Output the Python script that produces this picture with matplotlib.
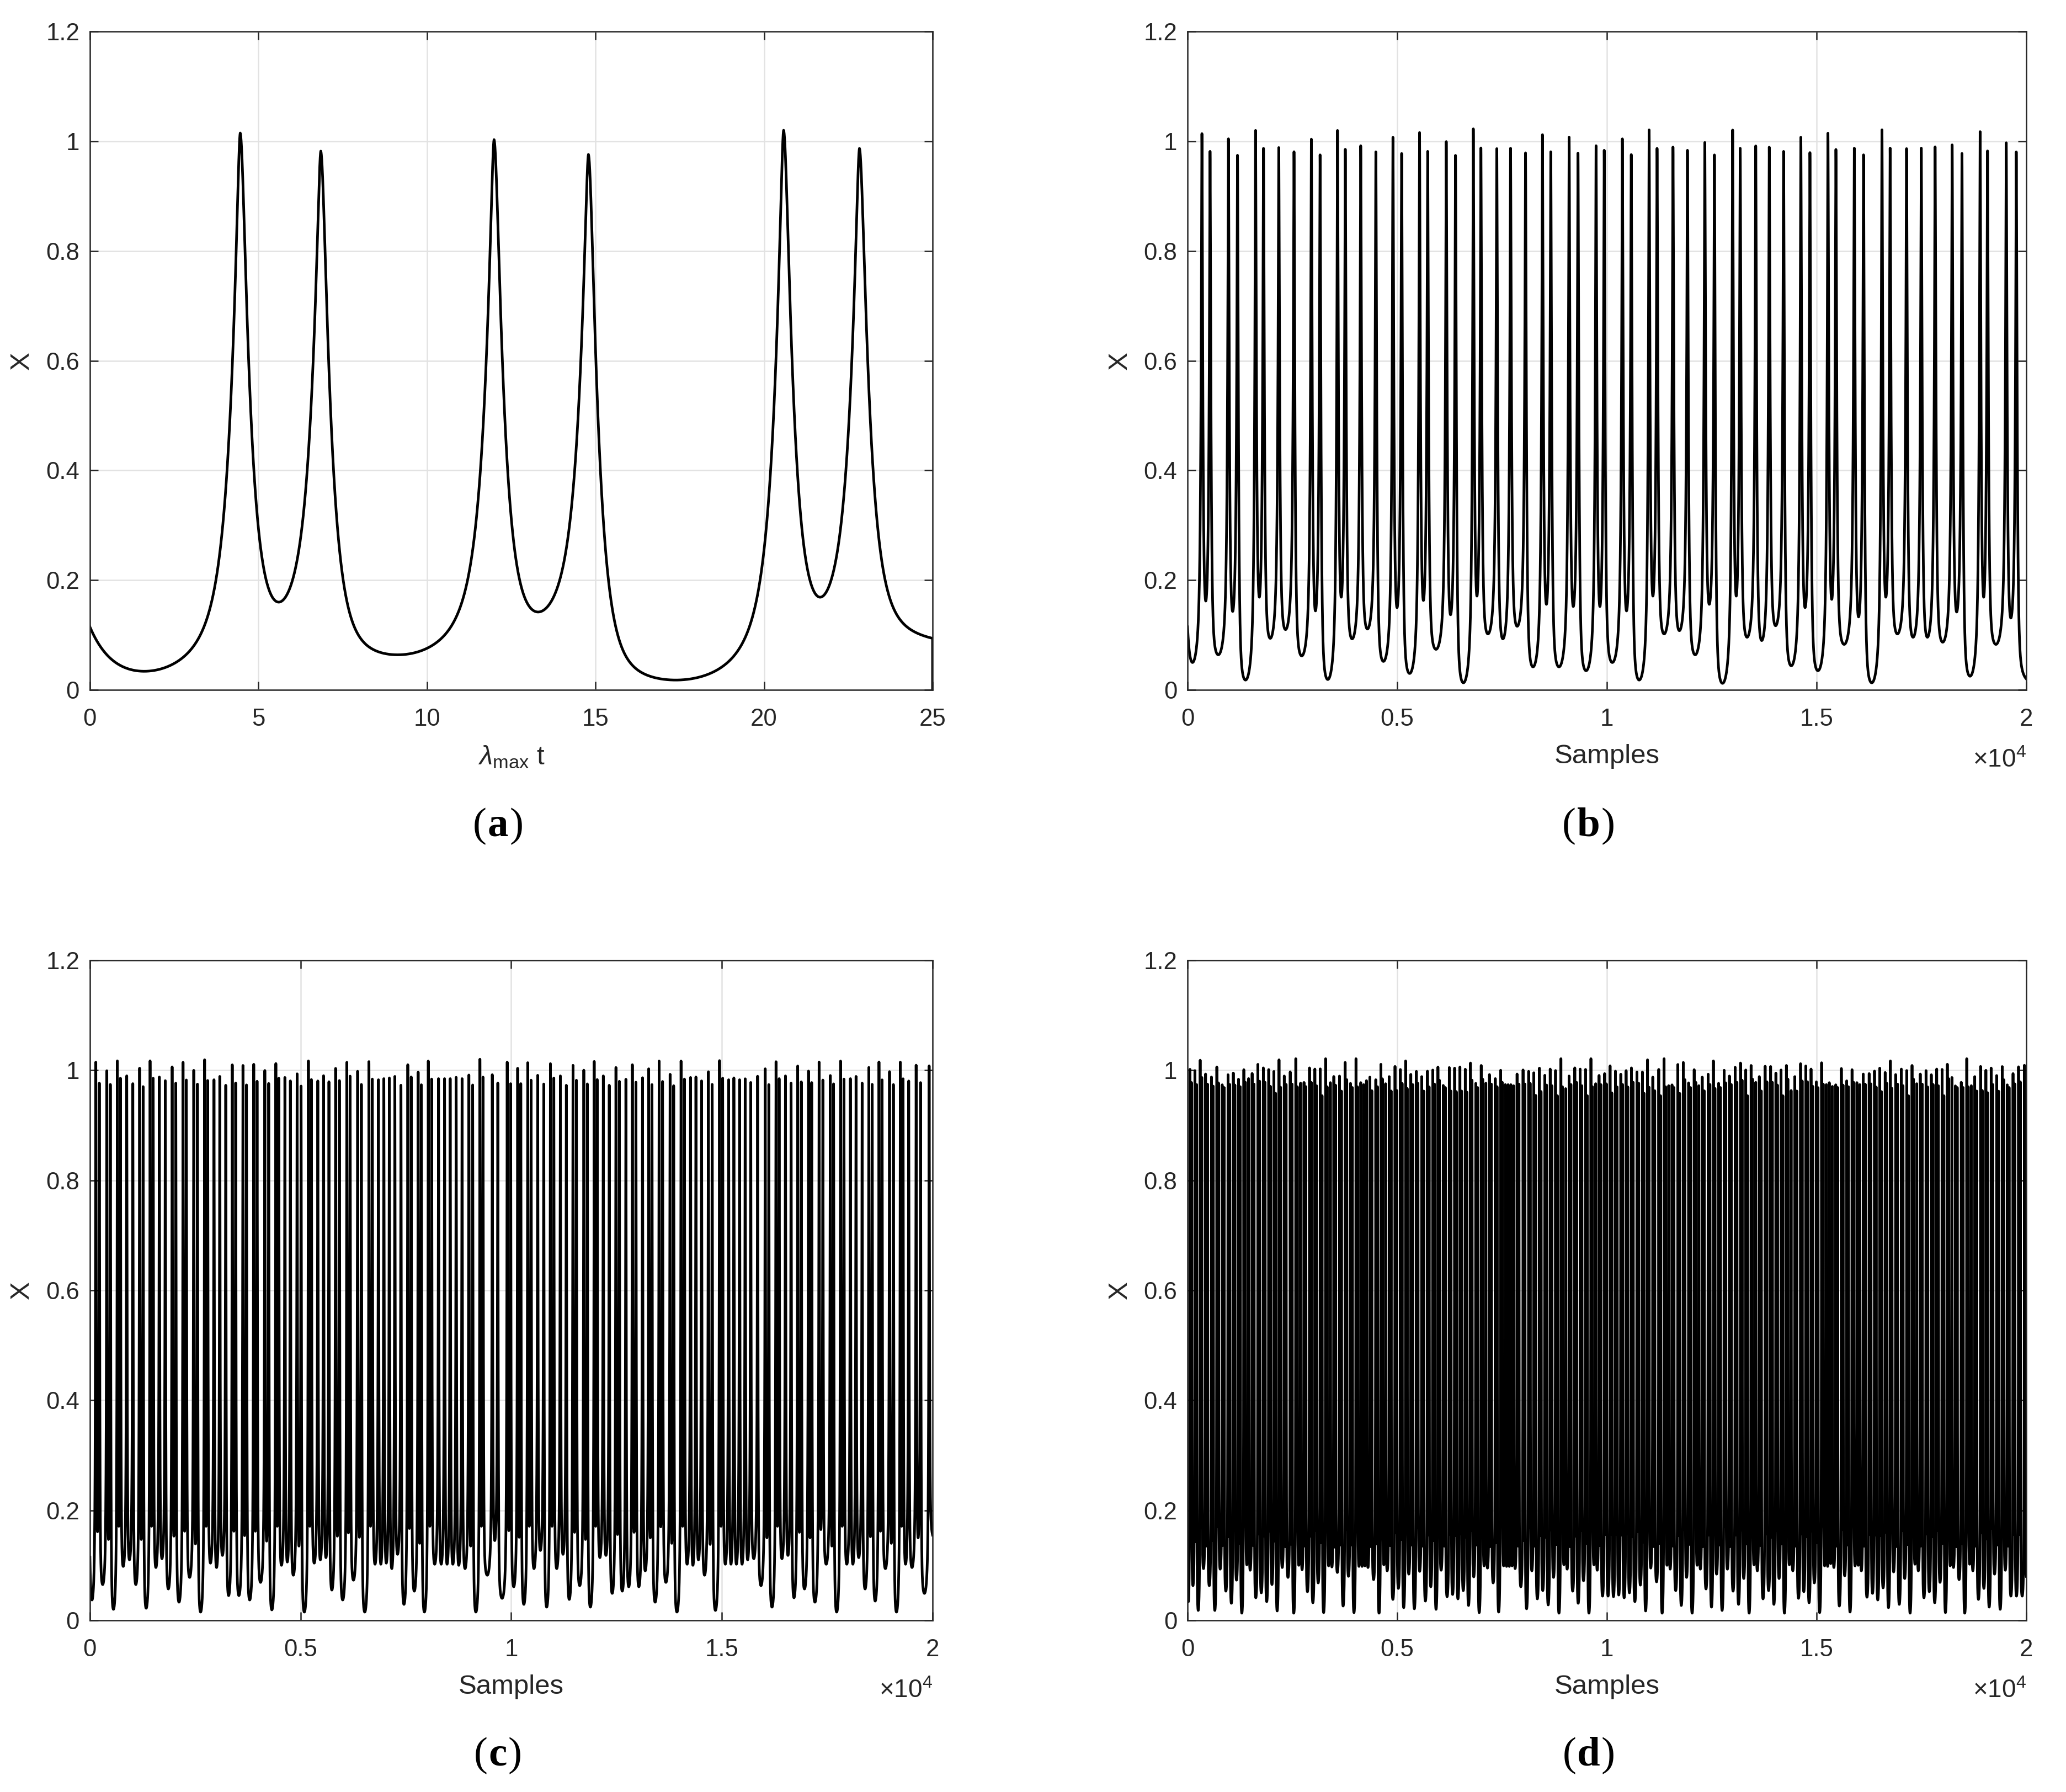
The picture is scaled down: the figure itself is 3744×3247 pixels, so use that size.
import numpy as np
import matplotlib
matplotlib.use('Agg')
import matplotlib.pyplot as plt
from matplotlib.offsetbox import TextArea, HPacker, AnnotationBbox

plt.rcParams['font.family'] = ['Liberation Sans', 'DejaVu Sans']
plt.rcParams['mathtext.fontset'] = 'custom'
plt.rcParams['mathtext.rm'] = 'Liberation Sans'
plt.rcParams['mathtext.it'] = 'Liberation Sans:italic'
plt.rcParams['mathtext.bf'] = 'Liberation Sans:bold'

# ---------------- panel (a): spikes of X against lambda_max t
a_start = 0.115
a_peak_t = [4.46, 6.85, 11.99, 14.79, 20.58, 22.83]
a_peak_x = [1.015, 0.982, 1.003, 0.976, 1.020, 0.987]
a_trough_x = [0.034, 0.160, 0.064, 0.142, 0.018, 0.169, 0.094]   # before, between, after the spikes
a_end_drop = 0.0

# ---------------- panels (b)-(d): lower troughs (sample, value) and the spikes in each gap
# gap entry: (peak,) for a single spike, (peak1, shallow trough, peak2) for a double spike
start_x_val = 0.115

b_low_x = [124, 731, 1408, 2001, 2318, 2719, 3367, 3947, 4278, 4664,
           5313, 5920, 6610, 7176, 7535, 7838, 8239, 8860, 9522, 10129,
           10792, 11385, 11730, 12075, 12793, 13358, 13703, 14007, 14380, 15056,
           15649, 16339, 16946, 17305, 17650, 17968, 18699, 19251, 20000]
b_low_y = [0.050, 0.064, 0.018, 0.094, 0.110, 0.062, 0.019, 0.093, 0.111, 0.052,
           0.030, 0.074, 0.013, 0.102, 0.093, 0.116, 0.042, 0.042, 0.035, 0.050,
           0.018, 0.102, 0.108, 0.064, 0.012, 0.096, 0.090, 0.117, 0.044, 0.035,
           0.083, 0.013, 0.102, 0.096, 0.096, 0.087, 0.025, 0.083, 0.020]
b_gaps = [(1.015, .162, .982), (1.005, .143, .976), (1.021, .169, .988), (.990,), (.982,),
          (1.005, .144, .976), (1.020, .169, .987), (.992,), (.982,), (1.008, .150, .979),
          (1.017, .163, .982), (1.001, .137, .975), (1.023, .171, .988), (.988,), (.988,),
          (.980,), (1.013, .156, .982), (1.009, .152, .979), (.993, .152, .984), (1.005, .144, .976),
          (1.022, .171, .988), (.990,), (.984,), (.999, .156, .976), (1.022, .171, .988),
          (.992,), (.990,), (.982,), (1.009, .150, .980), (1.016, .165, .986),
          (.989, .133, .976), (1.022, .169, .988), (.988,), (.988,), (.990,),
          (.994, .142, .978), (1.018, .169, .984), (.998, .131, .982)]

c_low_x = [47, 308, 570, 798, 938, 1086, 1347, 1575, 1709, 1856,
           2125, 2366, 2641, 2868, 3009, 3143, 3291, 3539, 3800, 4048,
           4336, 4551, 4691, 4812, 5107, 5328, 5476, 5603, 5730, 6012,
           6253, 6534, 6782, 6903, 7037, 7164, 7298, 7453, 7707, 7942,
           8190, 8344, 8478, 8612, 8759, 8893, 9175, 9403, 9812, 10067,
           10302, 10550, 10691, 10838, 11092, 11226, 11374, 11628, 11890, 12111,
           12245, 12393, 12647, 12781, 13043, 13175, 13418, 13673, 13941, 14189,
           14309, 14443, 14577, 14859, 15093, 15214, 15341, 15482, 15610, 15744,
           15931, 16199, 16434, 16568, 16702, 16970, 17205, 17486, 17727, 17975,
           18109, 18243, 18397, 18646, 18874, 19162, 19363, 19491, 19819, 20000]
c_low_y = [.037, .065, .020, .098, .110, .065, .022, .096, .112, .057,
           .033, .078, .015, .104, .096, .118, .045, .045, .037, .069,
           .019, .100, .106, .082, .015, .104, .110, .114, .055, .037,
           .073, .015, .102, .102, .104, .094, .120, .029, .053, .015,
           .102, .102, .102, .102, .100, .094, .015, .082, .040, .061,
           .029, .094, .127, .024, .094, .120, .038, .063, .024, .114,
           .118, .049, .053, .061, .061, .090, .033, .069, .015, .102,
           .100, .110, .082, .018, .102, .102, .102, .102, .110, .112,
           .063, .024, .112, .118, .041, .057, .033, .102, .015, .102,
           .102, .114, .057, .035, .094, .015, .102, .096, .049, .155]
c_gaps = [(1.015, .161, .982), (1.004, .147, .976), (1.018, .171, .986), (.990,), (.982,),
          (1.004, .147, .976), (1.018, .171, .986), (.990,), (.982,), (1.007, .153, .977),
          (1.016, .162, .983), (1.000, .139, .975), (1.021, .171, .987), (.987,), (.991,),
          (.979,), (1.014, .162, .980), (1.009, .154, .979), (1.015, .162, .983), (1.002, .144, .977),
          (1.019, .171, .988), (.987,), (.985,), (.996, .135, .975), (1.021, .171, .987),
          (.987,), (.991,), (.980,), (1.008, .153, .983), (1.016, .159, .990),
          (1.000, .151, .975), (1.020, .171, .987), (.987,), (.987,), (.987,),
          (.991,), (.976,), (1.016, .167, .990), (1.000, .140, .975), (1.021, .171, .987),
          (.987,), (.987,), (.987,), (.988,), (.987,),
          (.996, .135, .975), (1.021, .171, .988), (.995, .145, .978), (1.016, .163, .982), (1.007, .151, .977),
          (1.018, .171, .985), (.995,), (.976,), (1.018, .171, .988), (.992,),
          (.979,), (1.015, .160, .984), (1.005, .147, .977), (1.020, .171, .987), (.992,),
          (.979,), (1.011, .156, .982), (.986,), (1.015, .160, .980), (.990,),
          (1.008, .150, .977), (1.018, .170, .986), (.998, .140, .975), (1.021, .171, .987), (.987,),
          (.990,), (.983,), (1.002, .138, .976), (1.021, .171, .987), (.987,),
          (.987,), (.987,), (.991,), (.980,), (.990,),
          (1.008, .150, .977), (1.019, .171, .986), (.992,), (.979,), (1.013, .160, .982),
          (1.002, .150, .979), (1.017, .165, .983), (.992, .135, .976), (1.021, .171, .987), (.987,),
          (.991,), (.979,), (1.008, .152, .979), (1.016, .162, .983), (1.000, .140, .975),
          (1.021, .171, .987), (.987,), (1.010, .150, .978), (1.012,)]

d_low_x = [18, 128, 259, 378, 522, 654, 777, 917, 1049, 1167,
           1299, 1417, 1488, 1632, 1760, 1891, 2014, 2141, 2255, 2396,
           2540, 2654, 2729, 2861, 2992, 3115, 3251, 3365, 3440, 3571,
           3716, 3835, 3975, 4089, 4164, 4230, 4295, 4440, 4572, 4681,
           4756, 4901, 5028, 5159, 5273, 5414, 5532, 5677, 5800, 5931,
           6041, 6195, 6322, 6449, 6576, 6703, 6822, 6962, 7072, 7147,
           7291, 7423, 7541, 7607, 7673, 7739, 7805, 7949, 8090, 8208,
           8344, 8471, 8603, 8726, 8862, 8976, 9046, 9187, 9318, 9441,
           9577, 9691, 9766, 9897, 10029, 10159, 10282, 10414, 10537, 10668,
           10800, 10927, 11041, 11186, 11322, 11436, 11502, 11642, 11778, 11897,
           12037, 12155, 12221, 12366, 12498, 12612, 12752, 12870, 13011, 13142,
           13261, 13397, 13507, 13581, 13726, 13857, 13985, 14103, 14239, 14349,
           14428, 14573, 14695, 14823, 14946, 15075, 15195, 15261, 15336, 15406,
           15546, 15669, 15801, 15919, 15994, 16060, 16204, 16336, 16459, 16586,
           16718, 16832, 16976, 17099, 17235, 17345, 17420, 17564, 17687, 17819,
           17942, 18078, 18187, 18258, 18398, 18538, 18652, 18718, 18863, 18990,
           19117, 19240, 19385, 19495, 19635, 19767, 19898, 20000]
d_low_y = [.034, .063, .018, .094, .063, .018, .093, .053, .031, .073,
           .013, .101, .091, .041, .050, .034, .065, .017, .096, .078,
           .013, .100, .092, .052, .032, .068, .014, .099, .097, .087,
           .026, .080, .014, .098, .098, .099, .096, .074, .013, .101,
           .090, .038, .058, .023, .084, .021, .089, .035, .061, .020,
           .091, .043, .047, .039, .054, .027, .079, .014, .099, .095,
           .068, .015, .099, .098, .098, .099, .094, .061, .021, .090,
           .039, .054, .028, .078, .013, .101, .093, .053, .031, .072,
           .013, .101, .091, .044, .044, .043, .046, .041, .050, .034,
           .064, .017, .095, .070, .013, .100, .093, .054, .027, .078,
           .013, .100, .093, .057, .024, .084, .018, .093, .053, .029,
           .076, .013, .101, .090, .039, .054, .029, .076, .013, .101,
           .090, .040, .052, .032, .068, .014, .099, .098, .103, .096,
           .026, .081, .015, .099, .100, .090, .042, .049, .037, .059,
           .023, .088, .029, .076, .013, .102, .090, .041, .052, .032,
           .069, .014, .099, .096, .074, .013, .102, .090, .038, .058,
           .024, .084, .020, .091, .044, .044, .044, .080]
d_gaps = [(1.015, .162, .982), (1.005, .143, .976), (1.021, .169, .988), (.996, .135, .976), (1.006, .145, .977),
          (1.020, .170, .988), (.996, .136, .976), (1.010, .152, .980), (1.016, .163, .983), (1.002, .140, .976),
          (1.022, .171, .988), (.986,), (.997, .136, .976), (1.013, .157, .981), (1.010, .153, .980),
          (1.015, .162, .982), (1.005, .144, .977), (1.020, .170, .987), (.995, .134, .976), (1.000, .138, .976),
          (1.022, .171, .988), (.987,), (.996, .135, .976), (1.010, .153, .980), (1.016, .163, .983),
          (1.003, .141, .976), (1.022, .171, .988), (.988,), (.994, .133, .975), (.997, .137, .976),
          (1.017, .165, .984), (.999, .137, .976), (1.022, .171, .988), (.988,), (.988,),
          (.987,), (.995, .134, .976), (1.001, .139, .976), (1.022, .171, .988), (.986,),
          (.996, .136, .976), (1.014, .159, .982), (1.007, .147, .978), (1.018, .167, .985), (.998, .137, .976),
          (1.019, .168, .986), (.996, .135, .976), (1.012, .155, .981), (1.006, .145, .977), (1.019, .168, .986),
          (.996, .135, .976), (1.012, .156, .981), (1.011, .154, .980), (1.013, .157, .981), (1.009, .151, .979),
          (1.016, .163, .983), (.999, .137, .976), (1.022, .171, .988), (.987,), (.995, .134, .976),
          (1.003, .141, .976), (1.021, .170, .988), (.988,), (.988,), (.988,),
          (.986,), (.996, .135, .976), (1.006, .145, .977), (1.019, .168, .986), (.996, .135, .976),
          (1.011, .154, .980), (1.009, .151, .979), (1.016, .164, .983), (1.000, .138, .976), (1.022, .171, .988),
          (.986,), (.995, .134, .976), (1.010, .153, .980), (1.016, .163, .983), (1.002, .140, .976),
          (1.022, .171, .988), (.986,), (.996, .136, .976), (1.012, .156, .981), (1.012, .156, .981),
          (1.012, .156, .981), (1.011, .155, .980), (1.013, .157, .981), (1.010, .152, .980), (1.015, .161, .982),
          (1.004, .142, .977), (1.020, .170, .987), (.995, .134, .976), (1.002, .140, .976), (1.022, .171, .988),
          (.986,), (.996, .135, .976), (1.011, .154, .980), (1.017, .165, .984), (1.000, .138, .976),
          (1.022, .171, .988), (.986,), (.995, .134, .976), (1.011, .155, .980), (1.018, .166, .985),
          (.999, .137, .976), (1.021, .170, .987), (.995, .134, .976), (1.011, .155, .980), (1.016, .164, .983),
          (1.001, .139, .976), (1.022, .171, .988), (.986,), (.996, .136, .976), (1.013, .157, .981),
          (1.009, .151, .979), (1.016, .163, .983), (1.001, .139, .976), (1.022, .171, .988), (.986,),
          (.996, .135, .976), (1.013, .157, .981), (1.010, .152, .980), (1.016, .162, .982), (1.003, .141, .976),
          (1.022, .171, .988), (.988,), (.988,), (.990,), (.996, .135, .976),
          (1.017, .165, .984), (.999, .137, .976), (1.022, .171, .988), (.988,), (.988,),
          (.996, .135, .976), (1.012, .156, .981), (1.012, .155, .981), (1.011, .154, .980), (1.014, .160, .982),
          (1.018, .167, .985), (.995, .134, .976), (1.016, .163, .983), (1.000, .138, .976), (1.022, .171, .988),
          (.986,), (.996, .135, .976), (1.013, .157, .981), (1.010, .152, .980), (1.016, .163, .983),
          (1.002, .140, .976), (1.022, .171, .988), (.988,), (.994, .134, .976), (1.001, .139, .976),
          (1.022, .171, .988), (.986,), (.996, .135, .976), (1.014, .159, .982), (1.007, .148, .978),
          (1.018, .167, .985), (.998, .137, .976), (1.020, .169, .987), (.996, .135, .976), (1.012, .156, .981),
          (1.012, .156, .981), (1.012,)]

# samples per unit of lambda_max t (sets the spike width in each panel)
k_a, k_b, k_c, k_d = 1.0, 78.0, 33.0, 15.0

# spike flank shapes in lambda_max t units: (top rounding, fast decay, slow weight, slow decay)
FALL = (0.10, 0.27, 0.12, 1.1)
RISE = (0.05, 0.28, 0.25, 1.0)


def flank(d, prm):
    a, tau, w, tau2 = prm
    return (1 - w) * np.exp(-(np.sqrt(1 + (d / a) ** 2) - 1) * a / tau) + w * np.exp(-d / tau2)


def segment(s, x0, x1, yl, yr, yt, k, left='peak', right=True):
    # curve between a spike (or the start) at x0 and a spike at x1 whose lowest value is yt
    D = (x1 - x0) / k
    dl, dr = (s - x0) / k, (x1 - s) / k
    if left == 'peak':
        uL, cL = flank(dl, FALL), flank(D, FALL)
    else:
        uL, cL = np.exp(-dl / 0.7), np.exp(-D / 0.7)
    phiL = (uL - cL) / (1 - cL)
    if right:
        uR, cR = flank(dr, RISE), flank(D, RISE)
        phiR = (uR - cR) / (1 - cR)
    else:
        phiR = np.zeros_like(s)
    base = yt
    for _ in range(5):
        y = base + (yl - base) * phiL + (yr - base) * phiR
        j = int(np.argmin(y))
        base -= (y[j] - yt) / max(1 - phiL[j] - phiR[j], 0.2)
    return base + (yl - base) * phiL + (yr - base) * phiR


def render(xx, y0, px, py, ty, x_end, k):
    y = np.zeros_like(xx)
    m = xx <= px[0]
    y[m] = segment(xx[m], 0.0, px[0], y0, py[0], ty[0], k, left='start')
    for i in range(len(px) - 1):
        m = (xx >= px[i]) & (xx <= px[i + 1])
        y[m] = segment(xx[m], px[i], px[i + 1], py[i], py[i + 1], ty[i + 1], k)
    m = xx >= px[-1]
    y[m] = segment(xx[m], px[-1], x_end, py[-1], 0.0, ty[-1], k, right=False)
    return y


def gaps_to_spikes(low_x, low_y, gaps):
    assert len(gaps) == len(low_x) - 1 and len(low_x) == len(low_y)
    px, py, ty = [], [], [low_y[0]]
    for i, g in enumerate(gaps):
        A, B = low_x[i], low_x[i + 1]
        if len(g) == 1:
            px.append(A + 0.55 * (B - A)); py.append(g[0])
        else:
            px += [A + 0.36 * (B - A), A + 0.68 * (B - A)]
            py += [g[0], g[2]]
            ty.append(g[1])
        ty.append(low_y[i + 1])
    return px, py, ty


W, H = 3744, 3247
fig = plt.figure(figsize=(W / 300, H / 300), dpi=300)
boxes = {
    'a': [0.0435, 0.6150, 0.4079, 0.3674],
    'b': [0.5748, 0.6150, 0.4060, 0.3674],
    'c': [0.0435, 0.0958, 0.4079, 0.3683],
    'd': [0.5748, 0.0958, 0.4060, 0.3683],
}
dark = '#262626'
LW = 1.15
TICK_FS, LABEL_FS = 10.5, 11.8


def style(ax):
    ax.set_ylim(0, 1.2)
    ax.set_yticks([0, 0.2, 0.4, 0.6, 0.8, 1.0, 1.2])
    ax.set_yticklabels(['0', '0.2', '0.4', '0.6', '0.8', '1', '1.2'])
    ax.grid(True, color='#e2e2e2', lw=0.6)
    ax.set_axisbelow(True)
    ax.tick_params(direction='in', top=True, right=True, length=3.5, width=0.6,
                   colors=dark, labelsize=TICK_FS)
    ax.tick_params(axis='x', pad=8)
    ax.tick_params(axis='y', pad=4.5)
    for sp in ax.spines.values():
        sp.set_color(dark)
        sp.set_linewidth(0.6)
    ax.set_ylabel('X', fontsize=LABEL_FS, color=dark)
    ax.yaxis.set_label_coords(-0.066, 0.5)


# panel (a)
ax = fig.add_axes(boxes['a'])
ta = np.linspace(0, 25, 10001)
ya = render(ta, a_start, a_peak_t, a_peak_x, a_trough_x, 25.0, k_a)
ax.plot(np.append(ta, 25.0), np.append(ya, a_end_drop), color='black', lw=LW)
ax.set_xlim(0, 25)
ax.set_xticks([0, 5, 10, 15, 20, 25])
style(ax)
ax.set_xlabel(r'$\lambda_{\rm max}$ t', fontsize=LABEL_FS, color=dark)
ax.xaxis.set_label_coords(0.5, -0.082)

xs = np.arange(0, 20001, dtype=float)
for key, lx, ly, gp, k in [('b', b_low_x, b_low_y, b_gaps, k_b),
                           ('c', c_low_x, c_low_y, c_gaps, k_c),
                           ('d', d_low_x, d_low_y, d_gaps, k_d)]:
    ax = fig.add_axes(boxes[key])
    px, py, ty = gaps_to_spikes(lx, ly, gp)
    ax.plot(xs, render(xs, start_x_val, px, py, ty, 20000.0, k), color='black', lw=LW)
    ax.set_xlim(0, 20000)
    ax.set_xticks([0, 5000, 10000, 15000, 20000])
    ax.set_xticklabels(['0', '0.5', '1', '1.5', '2'])
    style(ax)
    ax.set_xlabel('Samples', fontsize=LABEL_FS, color=dark)
    ax.xaxis.set_label_coords(0.5, -0.082)
    ax.text(1.0, -0.107, r'×$10^{4}$', transform=ax.transAxes, ha='right', va='center',
            fontsize=11, color=dark)

# panel letters: "(" + bold letter + ")"
serif = ['Liberation Serif', 'DejaVu Serif']
for letter, (fx, fy) in zip('abcd', [(0.241, 0.539), (0.769, 0.539), (0.241, 0.0204), (0.769, 0.0204)]):
    parts = [TextArea('(', textprops=dict(family=serif, size=18)),
             TextArea(letter, textprops=dict(family=serif, size=18, weight='bold')),
             TextArea(')', textprops=dict(family=serif, size=18))]
    box = HPacker(children=parts, align='baseline', pad=0, sep=0.5)
    ab = AnnotationBbox(box, (fx, fy), xycoords='figure fraction', frameon=False,
                        box_alignment=(0.5, 0.5))
    fig.add_artist(ab)

fig.savefig('out.png', dpi=300)
